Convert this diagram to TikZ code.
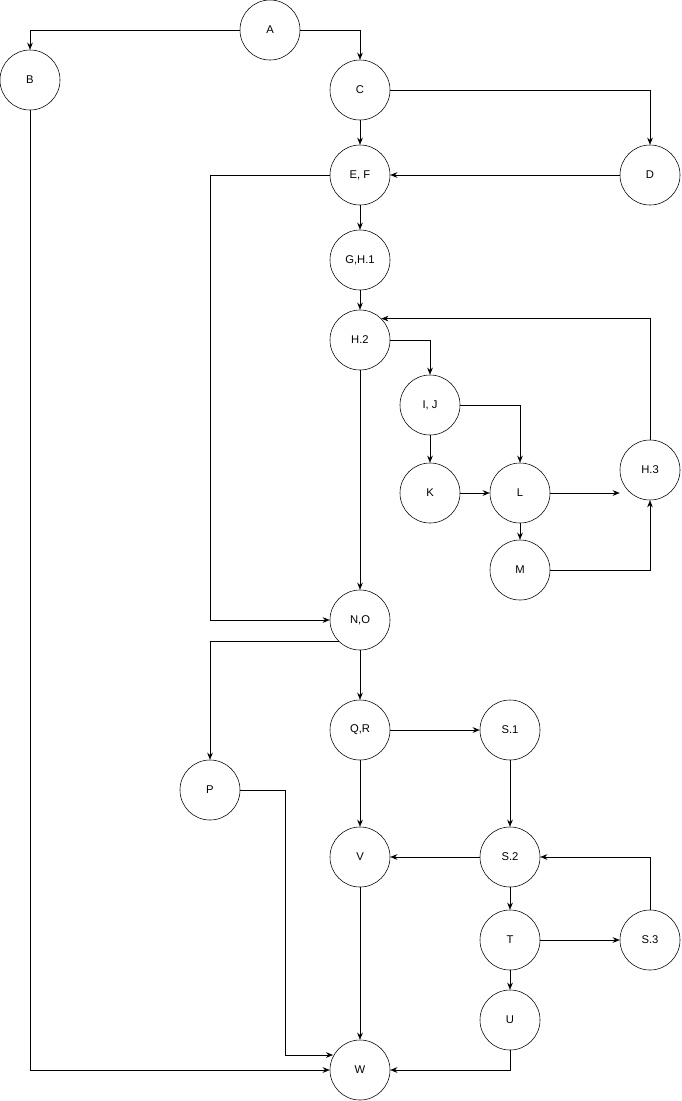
\documentclass[tikz,border=0pt]{standalone}
\usepackage{fontspec}
\setmainfont{Liberation Sans}
\usetikzlibrary{arrows.meta}
\begin{document}
\begin{tikzpicture}[x=0.025cm,y=-0.025cm,
  st/.style={circle,draw,minimum size=1.5cm,inner sep=0pt,font=\fontsize{8}{9}\selectfont},
  ar/.style={-{Stealth[length=5pt,width=4pt]}}]
\useasboundingbox (0,0) rectangle (682,1101);
% nodes
\node[st] (A) at (270,30) {A};
\node[st] (B) at (30,80) {B};
\node[st] (C) at (360,90) {C};
\node[st] (D) at (650,175) {D};
\node[st] (EF) at (360,175) {E, F};
\node[st] (GH1) at (360,260) {G,H.1};
\node[st] (H2) at (360,340) {H.2};
\node[st] (IJ) at (430,405) {I, J};
\node[st] (K) at (430,493) {K};
\node[st] (L) at (520,493) {L};
\node[st] (H3) at (650,470) {H.3};
\node[st] (M) at (520,570) {M};
\node[st] (NO) at (360,620) {N,O};
\node[st] (P) at (210,790) {P};
\node[st] (QR) at (360,730) {Q,R};
\node[st] (S1) at (510,730) {S.1};
\node[st] (V) at (360,857) {V};
\node[st] (S2) at (510,857) {S.2};
\node[st] (T) at (510,940) {T};
\node[st] (S3) at (650,940) {S.3};
\node[st] (U) at (510,1020) {U};
\node[st] (W) at (360,1070) {W};
\coordinate (Pin) at (333,1055);
% connectors
\draw[ar] (A.west) -| (B.north);
\draw[ar] (A.east) -| (C.north);
\draw[ar] (C) -- (EF);
\draw[ar] (C.east) -| (D.north);
\draw[ar] (D) -- (EF);
\draw[ar] (EF.west) -- (210,175) |- (NO.west);
\draw[ar] (EF) -- (GH1);
\draw[ar] (GH1) -- (H2);
\draw[ar] (H2.east) -| (IJ.north);
\draw[ar] (H2) -- (NO);
\draw[ar] (IJ) -- (K);
\draw[ar] (IJ.east) -| (L.north);
\draw[ar] (K) -- (L);
\draw[ar] (L.east) -- (L.east -| H3.west);
\draw[ar] (L) -- (M);
\draw[ar] (M.east) -| (H3.south);
\draw[ar] (H3.north) |- (H2.north east);
\draw[ar] (NO) -- (QR);
\draw[ar] (NO.south west) -| (P.north);
\draw[ar] (QR) -- (S1);
\draw[ar] (QR) -- (V);
\draw[ar] (S1) -- (S2);
\draw[ar] (S2) -- (V);
\draw[ar] (S2) -- (T);
\draw[ar] (T) -- (S3);
\draw[ar] (S3.north) |- (S2.east);
\draw[ar] (T) -- (U);
\draw[ar] (U.south) |- (W.east);
\draw[ar] (V) -- (W);
\draw[ar] (P.east) -- (285,790) |- (Pin);
\draw[ar] (B.south) |- (W.west);
\end{tikzpicture}
\end{document}
